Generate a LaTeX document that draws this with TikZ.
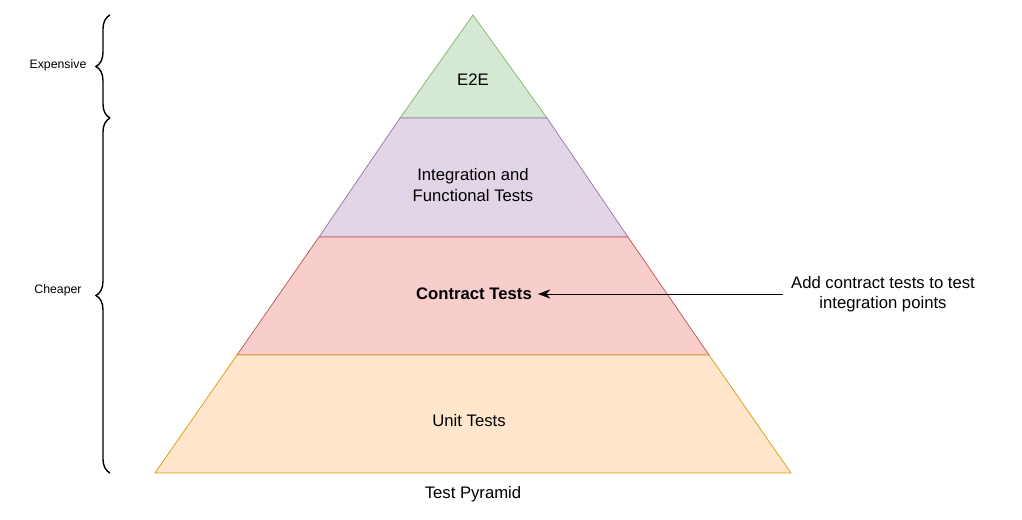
\documentclass[tikz,border=0pt]{standalone}
\usepackage{fontspec}
\setmainfont{Liberation Sans}
\usetikzlibrary{arrows.meta,decorations.pathreplacing}
\definecolor{eefill}{HTML}{D5E8D4}\definecolor{eeline}{HTML}{82B366}
\definecolor{itfill}{HTML}{E1D5E7}\definecolor{itline}{HTML}{9673A6}
\definecolor{ctfill}{HTML}{F8CECC}\definecolor{ctline}{HTML}{B85450}
\definecolor{utfill}{HTML}{FFE6CC}\definecolor{utline}{HTML}{D79B00}
\tikzset{
  lbl/.style={font=\fontsize{9.5}{11.5}\selectfont, align=center},
  sidelbl/.style={font=\fontsize{7}{8}\selectfont},
  brc/.style={decorate, decoration={brace, amplitude=8pt}, thick}
}
\begin{document}
\begin{tikzpicture}[x=0.02cm, y=-0.02cm]
        \useasboundingbox (0,0) rectangle (1022,520);
        %%Layers
        \draw[eeline, fill=eefill] (473,15) -- (547,118) -- (400,118) -- cycle;
        \draw[itline, fill=itfill] (400,118) -- (547,118) -- (628,237) -- (319,237) -- cycle;
        \draw[ctline, fill=ctfill] (319,237) -- (628,237) -- (709,355) -- (237,355) -- cycle;
        \draw[utline, fill=utfill] (237,355) -- (709,355) -- (791,473) -- (155,473) -- cycle;
        %%Labels
        \node[lbl] (e2e) at (473,80) {E2E};
        \node[lbl] (integ) at (473,185) {Integration and\\Functional Tests};
        \node[lbl] (contract) at (474,294) {\textbf{Contract Tests}};
        \node[lbl] (unit) at (469,421) {Unit Tests};
        \node[lbl] (title) at (473,494) {Test Pyramid};
        \node[lbl] (note) at (883,294) {Add contract tests to test\\integration points};
        \draw[-{Stealth[length=7pt]}] (note.west) ++(-2,0) coordinate (nstart) (nstart) -- (contract.east);
        %%Braces
        \draw[brc] (110,118) -- (110,15);
        \draw[brc] (110,473) -- (110,118);
        \node[sidelbl] (expensive) at (58,65) {Expensive};
        \node[sidelbl] (cheaper) at (58,290) {Cheaper};
    \end{tikzpicture}
\end{document}
